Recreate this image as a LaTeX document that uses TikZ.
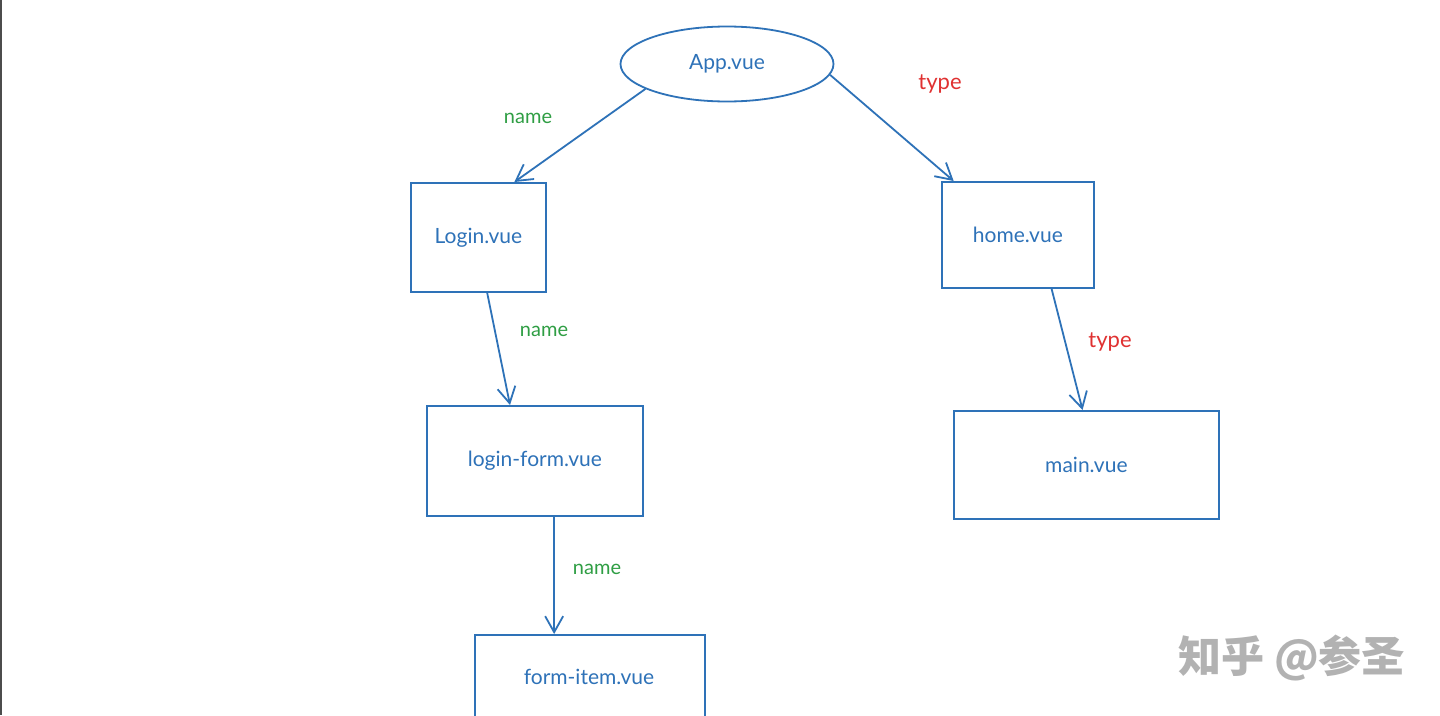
\documentclass[tikz,border=0pt]{standalone}
\usepackage{fontspec}
\setmainfont{Lato}
\newfontfamily\cjk{Noto Sans CJK SC}
\usetikzlibrary{arrows.meta,shapes.geometric}
\definecolor{sketchblue}{HTML}{2E72B8}
\definecolor{lblgreen}{HTML}{2F9E44}
\definecolor{lblred}{HTML}{E03131}
\definecolor{wmgray}{HTML}{B2B2B2}
\tikzset{
  boxtext/.style={text=sketchblue, font=\fontsize{21}{24}\selectfont},
  sk/.style={draw=sketchblue, line width=1.8pt, boxtext, inner sep=0pt},
  box/.style={sk, rectangle, anchor=north west},
  conn/.style={draw=sketchblue, line width=1.8pt, -{Straight Barb[length=16pt,width=18pt,line width=1.8pt]}},
  lblname/.style={text=lblgreen, font=\fontsize{20}{22}\selectfont},
  lbltype/.style={text=lblred, font=\fontsize{22}{24}\selectfont},
}
\begin{document}
\begin{tikzpicture}[x=1pt,y=-1pt]
\useasboundingbox[fill=white] (0,0) rectangle (1440,715);
\fill[black!70] (0,0) rectangle (2,715);
\node[sk, ellipse, minimum width=213pt, minimum height=75pt] (app) at (727,64) {App.vue};
\node[box, minimum width=135pt, minimum height=109pt] (login) at (410,182) {};
\node[boxtext] (logint) at (login.center) {Login.vue};
\node[box, minimum width=152pt, minimum height=106pt] (home) at (941,181) {};
\node[boxtext] (homet) at (home.center) {home.vue};
\node[box, minimum width=216pt, minimum height=110pt] (lf) at (426,405) {};
\node[boxtext] (lft) at (lf.center) {login-form.vue};
\node[box, minimum width=265pt, minimum height=108pt] (main) at (953,410) {};
\node[boxtext] (maint) at (main.center) {main.vue};
\node[box, minimum width=230pt, minimum height=110pt] (fi) at (474,634) {};
\node[boxtext] (fit) at (589,677) {form-item.vue};
\draw[conn] (app.197) -- (login.57);
\draw[conn] (app.-6) -- (home.140);
\draw[conn] (login.-81) -- (lf.114);
\draw[conn] (home.-58) -- (main.94);
\draw[conn] (lf.-71) -- (lf.-71 |- fi.north);
\node[lblname] (n1) at (528,118) {name};
\node[lbltype] (t1) at (940,84) {type};
\node[lblname] (n2) at (544,331) {name};
\node[lbltype] (t2) at (1110,342) {type};
\node[lblname] (n3) at (597,569) {name};
\node[text=wmgray, font=\cjk\bfseries\fontsize{43}{45}\selectfont, anchor=west, inner sep=0pt] (wm) at (1178,658) {知乎 @参圣};
\end{tikzpicture}
\end{document}
